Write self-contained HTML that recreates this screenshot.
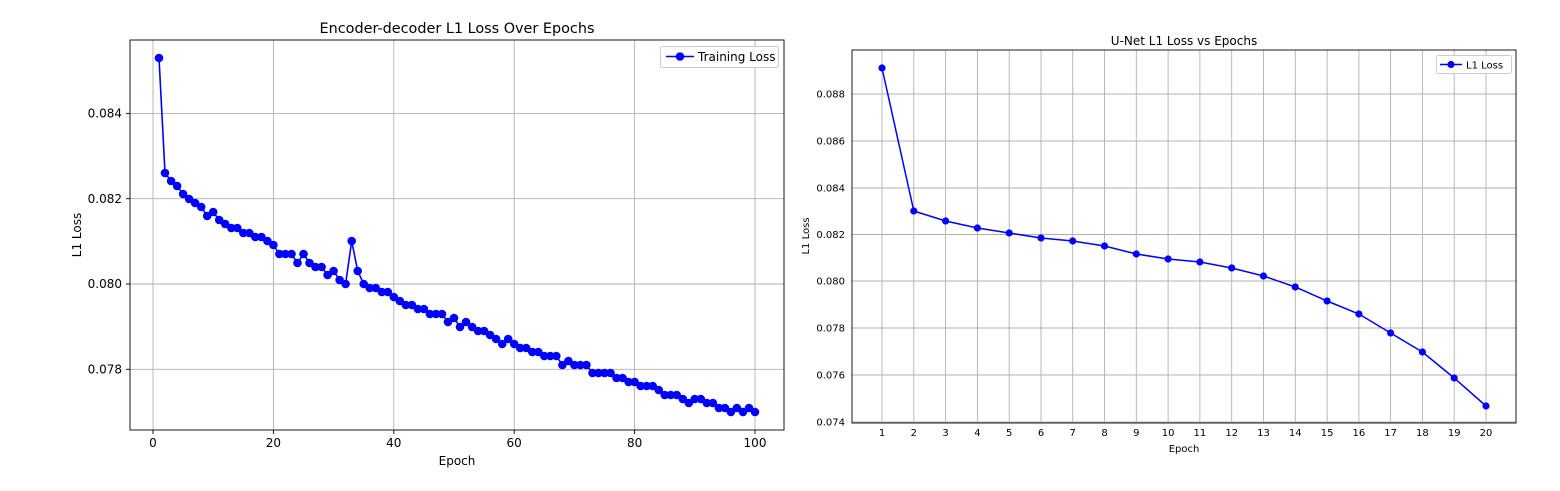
<!DOCTYPE html>
<html><head><meta charset="utf-8"><style>body{margin:0;background:#fff}svg{display:block}text{font-family:"DejaVu Sans","Liberation Sans",sans-serif;fill:#000}</style></head><body>
<svg width="1560" height="491" viewBox="0 0 1560 491" xmlns="http://www.w3.org/2000/svg">
<defs>
<marker id="mL" viewBox="-5 -5 10 10" markerWidth="10" markerHeight="10" markerUnits="userSpaceOnUse" refX="0" refY="0"><circle r="4.3" fill="#0000ff"/></marker>
<marker id="mR" viewBox="-4 -4 8 8" markerWidth="8" markerHeight="8" markerUnits="userSpaceOnUse" refX="0" refY="0"><circle r="3.6" fill="#0000ff"/></marker>
</defs>
<!-- LEFT -->
<g stroke="#b0b0b0" stroke-width="0.9">
<line x1="153" y1="40" x2="153" y2="430"/><line x1="273.4" y1="40" x2="273.4" y2="430"/><line x1="393.8" y1="40" x2="393.8" y2="430"/><line x1="514.2" y1="40" x2="514.2" y2="430"/><line x1="634.6" y1="40" x2="634.6" y2="430"/><line x1="755" y1="40" x2="755" y2="430"/>
<line x1="130" y1="113.4" x2="784" y2="113.4"/><line x1="130" y1="198.7" x2="784" y2="198.7"/><line x1="130" y1="284" x2="784" y2="284"/><line x1="130" y1="369.3" x2="784" y2="369.3"/>
</g>
<polyline fill="none" stroke="#0000ff" stroke-width="1.6" marker-start="url(#mL)" marker-mid="url(#mL)" marker-end="url(#mL)" points="159,58 165,173 171.1,181 177.1,186 183.1,194 189.1,199 195.1,203 201.2,207 207.2,216 213.2,212 219.2,220 225.2,224 231.3,228 237.3,228 243.3,233 249.3,233 255.3,237 261.4,237 267.4,241 273.4,245 279.4,254 285.4,254 291.5,254 297.5,263 303.5,254 309.5,263 315.5,267 321.6,267 327.6,275 333.6,271 339.6,280 345.6,284 351.7,241 357.7,271 363.7,284 369.7,288 375.7,288 381.8,292 387.8,292 393.8,297 399.8,301 405.8,305 411.9,305 417.9,309 423.9,309 429.9,314 435.9,314 442,314 448,322 454,318 460,327 466,322 472.1,327 478.1,331 484.1,331 490.1,335 496.1,339 502.2,344 508.2,339 514.2,344 520.2,348 526.2,348 532.3,352 538.3,352 544.3,356 550.3,356 556.3,356 562.4,365 568.4,361 574.4,365 580.4,365 586.4,365 592.5,373 598.5,373 604.5,373 610.5,373 616.5,378 622.6,378 628.6,382 634.6,382 640.6,386 646.6,386 652.7,386 658.7,390 664.7,395 670.7,395 676.7,395 682.8,399 688.8,403 694.8,399 700.8,399 706.8,403 712.9,403 718.9,408 724.9,408 730.9,412 736.9,408 743,412 749,408 755,412"/>
<rect x="130" y="40" width="654" height="390" fill="none" stroke="#000" stroke-width="0.9"/>
<g stroke="#000" stroke-width="0.9">
<line x1="153" y1="430" x2="153" y2="434"/><line x1="273.4" y1="430" x2="273.4" y2="434"/><line x1="393.8" y1="430" x2="393.8" y2="434"/><line x1="514.2" y1="430" x2="514.2" y2="434"/><line x1="634.6" y1="430" x2="634.6" y2="434"/><line x1="755" y1="430" x2="755" y2="434"/>
<line x1="126" y1="113.4" x2="130" y2="113.4"/><line x1="126" y1="198.7" x2="130" y2="198.7"/><line x1="126" y1="284" x2="130" y2="284"/><line x1="126" y1="369.3" x2="130" y2="369.3"/>
</g>
<g font-size="12" text-anchor="middle">
<text x="153" y="447">0</text><text x="273.4" y="447">20</text><text x="393.8" y="447">40</text><text x="514.2" y="447">60</text><text x="634.6" y="447">80</text><text x="755" y="447">100</text>
</g>
<g font-size="12" text-anchor="end">
<text x="122" y="117.5">0.084</text><text x="122" y="203">0.082</text><text x="122" y="288">0.080</text><text x="122" y="373.5">0.078</text>
</g>
<text x="457" y="465" font-size="12" text-anchor="middle">Epoch</text>
<text transform="translate(81,235) rotate(-90)" font-size="12" text-anchor="middle">L1 Loss</text>
<text x="457" y="33" font-size="14.4" text-anchor="middle">Encoder-decoder L1 Loss Over Epochs</text>
<rect x="660.5" y="46.5" width="118" height="21" rx="2" fill="#fff" stroke="#ccc"/>
<line x1="666" y1="56.5" x2="694" y2="56.5" stroke="#0000ff" stroke-width="1.6"/><circle cx="680" cy="56.5" r="4.3" fill="#0000ff"/>
<text x="698" y="61" font-size="12">Training Loss</text>
<!-- RIGHT -->
<g stroke="#b0b0b0" stroke-width="0.9">
<line x1="882" y1="50" x2="882" y2="423"/><line x1="913.8" y1="50" x2="913.8" y2="423"/><line x1="945.6" y1="50" x2="945.6" y2="423"/><line x1="977.4" y1="50" x2="977.4" y2="423"/><line x1="1009.2" y1="50" x2="1009.2" y2="423"/><line x1="1041" y1="50" x2="1041" y2="423"/><line x1="1072.7" y1="50" x2="1072.7" y2="423"/><line x1="1104.5" y1="50" x2="1104.5" y2="423"/><line x1="1136.3" y1="50" x2="1136.3" y2="423"/><line x1="1168.1" y1="50" x2="1168.1" y2="423"/><line x1="1199.9" y1="50" x2="1199.9" y2="423"/><line x1="1231.7" y1="50" x2="1231.7" y2="423"/><line x1="1263.5" y1="50" x2="1263.5" y2="423"/><line x1="1295.3" y1="50" x2="1295.3" y2="423"/><line x1="1327.1" y1="50" x2="1327.1" y2="423"/><line x1="1358.9" y1="50" x2="1358.9" y2="423"/><line x1="1390.6" y1="50" x2="1390.6" y2="423"/><line x1="1422.4" y1="50" x2="1422.4" y2="423"/><line x1="1454.2" y1="50" x2="1454.2" y2="423"/><line x1="1486" y1="50" x2="1486" y2="423"/>
<line x1="852" y1="94" x2="1516" y2="94"/><line x1="852" y1="141" x2="1516" y2="141"/><line x1="852" y1="188" x2="1516" y2="188"/><line x1="852" y1="234.5" x2="1516" y2="234.5"/><line x1="852" y1="281" x2="1516" y2="281"/><line x1="852" y1="328" x2="1516" y2="328"/><line x1="852" y1="375" x2="1516" y2="375"/><line x1="852" y1="422" x2="1516" y2="422"/>
</g>
<polyline fill="none" stroke="#0000ff" stroke-width="1.5" marker-start="url(#mR)" marker-mid="url(#mR)" marker-end="url(#mR)" points="882,68 913.8,211 945.6,221 977.4,228 1009.2,233 1041,238 1072.7,241 1104.5,246 1136.3,254 1168.1,259 1199.9,262 1231.7,268 1263.5,276 1295.3,287 1327.1,301 1358.9,314 1390.6,333 1422.4,352 1454.2,378 1486,406"/>
<rect x="852" y="50" width="664" height="373" fill="none" stroke="#000" stroke-width="0.9"/>
<g font-size="10" text-anchor="middle">
<text x="882" y="436">1</text><text x="913.8" y="436">2</text><text x="945.6" y="436">3</text><text x="977.4" y="436">4</text><text x="1009.2" y="436">5</text><text x="1041" y="436">6</text><text x="1072.7" y="436">7</text><text x="1104.5" y="436">8</text><text x="1136.3" y="436">9</text><text x="1168.1" y="436">10</text><text x="1199.9" y="436">11</text><text x="1231.7" y="436">12</text><text x="1263.5" y="436">13</text><text x="1295.3" y="436">14</text><text x="1327.1" y="436">15</text><text x="1358.9" y="436">16</text><text x="1390.6" y="436">17</text><text x="1422.4" y="436">18</text><text x="1454.2" y="436">19</text><text x="1486" y="436">20</text>
</g>
<g font-size="10" text-anchor="end">
<text x="845" y="97.5">0.088</text><text x="845" y="144.5">0.086</text><text x="845" y="191.5">0.084</text><text x="845" y="238">0.082</text><text x="845" y="284.5">0.080</text><text x="845" y="331.5">0.078</text><text x="845" y="378.5">0.076</text><text x="845" y="425.5">0.074</text>
</g>
<text x="1184" y="452" font-size="10" text-anchor="middle">Epoch</text>
<text transform="translate(809,236) rotate(-90)" font-size="10" text-anchor="middle">L1 Loss</text>
<text x="1184" y="45" font-size="12" text-anchor="middle">U-Net L1 Loss vs Epochs</text>
<rect x="1436.5" y="55.5" width="75" height="18" rx="2" fill="#fff" stroke="#ccc"/>
<line x1="1440" y1="64.5" x2="1462" y2="64.5" stroke="#0000ff" stroke-width="1.5"/><circle cx="1451" cy="64.5" r="3.6" fill="#0000ff"/>
<text x="1466" y="68.5" font-size="10">L1 Loss</text>
</svg>
</body></html>
